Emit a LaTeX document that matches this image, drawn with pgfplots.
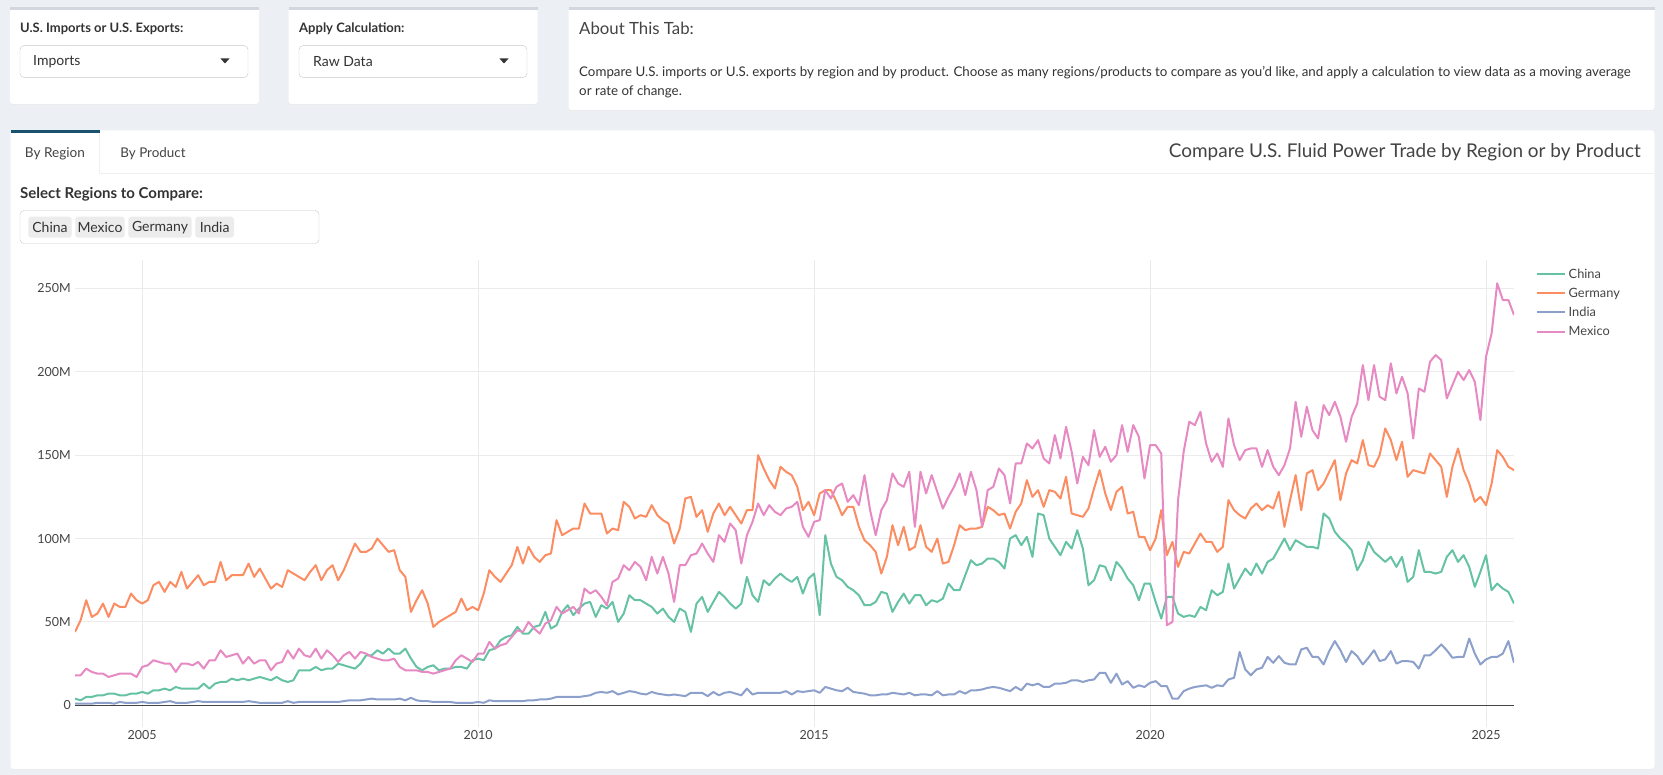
\documentclass[border=0pt]{standalone}
\usepackage{pgfplots}
\usepackage{pgfplotstable}
\pgfplotsset{compat=1.18}
\usepackage{fontspec}
\setmainfont{Lato}
\definecolor{bgc}{RGB}{236,240,245}
\definecolor{topgray}{RGB}{210,214,222}
\definecolor{selb}{RGB}{200,200,200}
\definecolor{tealc}{RGB}{26,82,110}
\definecolor{itemc}{RGB}{236,236,236}
\definecolor{textdark}{RGB}{51,51,51}
\definecolor{labelc}{RGB}{68,68,68}
\definecolor{gridc}{RGB}{235,235,235}
\definecolor{zeroc}{RGB}{68,68,68}
\definecolor{hdrline}{RGB}{240,240,240}
\definecolor{cChina}{RGB}{102,194,165}
\definecolor{cGermany}{RGB}{252,141,98}
\definecolor{cIndia}{RGB}{141,160,203}
\definecolor{cMexico}{RGB}{231,138,195}

\pgfplotstableread{
m C G I X
0 4 44 1 18
1 3 51 1 18
2 5 63 1 22
3 5 53 1 20
4 6 55 1.5 19
5 6 61 1.5 19
6 7 53 1.5 17
7 7 61 1 18
8 6 59 2 19
9 6 59 1.5 19
10 7 67 1.5 19
11 7 63 1.5 17
12 8 61 2 23
13 7 63 1.5 24
14 9 72 1.5 27
15 9 74 1.5 26
16 10 68 2 25
17 9 74 2.5 25
18 11 71 1.5 20
19 10 80 1.5 25
20 10 70 1.5 25
21 10 74 2 24
22 10 78 2.5 26
23 13 72 2 22
24 10 74 2 27
25 13 74 2 27
26 14 86 2 33
27 14 75 2 29
28 16 78 2 30
29 15 78 2 31
30 16 78 2 25
31 15 85 2.5 29
32 16 77 2 25
33 17 82 1.5 27
34 16 76 1.5 27
35 15 70 1.5 21
36 17 73 1.5 25
37 15 71 1.5 26
38 14 81 2.5 33
39 15 79 1.5 28
40 21 77 2 34
41 21 75 2 30
42 21 80 2 29
43 23 84 2 34
44 21 75 2 28
45 22 81 2 33
46 22 84 2 30
47 25 75 2 26
48 24 81 2.5 30
49 23 89 3 32
50 22 97 3 28
51 25 92 3 32
52 30 92 3.5 31
53 30 94 4 29
54 33 100 3.5 28
55 31 96 3.5 27
56 34 92 3.5 27
57 31 93 3.5 28
58 31 81 4 23
59 34 77 3 21
60 28 56 4.5 21
61 23 63 3 21
62 21 69 2.5 20
63 23 61 2.5 20
64 24 47 2 19
65 21 50 2 20
66 22 52 2 21
67 22 54 2 22
68 23 56 1.5 27
69 23 64 1.5 30
70 22 57 1.5 28
71 27 59 1.5 26
72 28 57 2 31
73 27 67 1.5 31
74 33 81 3 38
75 34 77 2.5 34
76 39 74 2.5 36
77 41 79 2.5 37
78 42 84 2.5 41
79 47 95 2.5 45
80 43 85 2.5 44
81 43 95 3 50
82 47 89 3 46
83 48 86 3.5 43
84 56 90 3.5 49
85 46 91 4 51
86 48 111 5 59
87 56 102 5 55
88 60 104 5 57
89 54 106 5 59
90 58 106 5 55
91 61 121 5.5 70
92 62 115 6 67
93 53 115 7.5 69
94 60 115 8 65
95 58 103 7.5 60
96 62 106 8.5 74
97 50 105 6.5 76
98 55 122 7.5 84
99 66 119 8.5 81
100 63 112 8 86
101 63 114 7 83
102 61 113 6.5 75
103 59 120 8 89
104 55 114 7 79
105 58 111 6.5 89
106 53 109 6 79
107 50 97 6.5 62
108 58 106 6 84
109 56 124 5.5 84
110 44 125 7.5 90
111 61 113 7.5 91
112 65 117 7.5 97
113 56 104 5.5 91
114 62 115 8 86
115 68 121 6 102
116 65 114 7.5 98
117 61 119 8 109
118 58 114 7 105
119 61 109 6 85
120 77 117 10 102
121 66 117 6.5 110
122 62 150 7.5 121
123 75 142 7.5 114
124 72 135 7.5 120
125 76 130 7.5 116
126 79 143 7.5 114
127 76 140 8.5 118
128 74 138 6.5 119
129 77 131 8.5 122
130 67 117 8 107
131 76 122 8.5 101
132 79 114 9 110
133 54 127 7.5 111
134 102 129 11 129
135 85 129 10 124
136 77 122 9 131
137 75 114 8.5 133
138 71 119 10.5 122
139 69 119 8 126
140 66 107 7.5 120
141 60 99 7 138
142 60 96 6 117
143 62 92 6 102
144 68 79 6.5 117
145 67 89 6.5 123
146 56 108 7.5 139
147 62 96 7 133
148 67 107 6.5 131
149 61 93 7.5 140
150 66 95 6 107
151 66 108 6.5 140
152 60 95 6.5 127
153 63 92 6 138
154 62 100 8.5 128
155 64 85 6 118
156 73 86 6.5 125
157 69 96 6.5 131
158 69 108 8.5 139
159 78 105 7 126
160 87 106 9 140
161 84 106 9 129
162 85 107 9.5 107
163 88 119 10.5 129
164 88 117 11 131
165 86 114 10.5 142
166 82 115 9.5 138
167 100 106 8.5 121
168 102 116 11 145
169 96 121 9 145
170 101 135 13 157
171 89 125 12 154
172 115 129 13 159
173 114 119 11 148
174 100 129 11 145
175 95 128 13 162
176 90 124 13 148
177 98 137 13.5 167
178 94 115 15 152
179 105 114 15 133
180 94 113 14 149
181 72 118 15 144
182 75 130 15.5 165
183 84 141 19.5 149
184 83 127 19.5 155
185 75 117 13.5 146
186 86 128 19 150
187 82 131 12.5 168
188 76 115 14.5 152
189 72 116 10.5 168
190 63 101 12 161
191 73 101 11 136
192 73 93 13.5 156
193 62 100 14.5 156
194 52 117 11.5 151
195 65 90 11.5 48
196 65 98 4 50
197 55 83 4 123
198 53 92 8.5 152
199 54 91 10 170
200 53 97 11 168
201 59 103 11.5 176
202 57 98 12 157
203 69 98 10.5 146
204 66 92 12 151
205 68 95 11.5 143
206 85 123 15.5 172
207 70 117 16.5 156
208 76 114 32 147
209 82 112 21.5 153
210 78 118 18 154
211 85 121 21.5 154
212 79 117 22.5 143
213 86 120 29 153
214 88 118 25.5 143
215 94 128 29.5 138
216 100 107 25.5 144
217 93 123 24.5 154
218 99 138 24.5 182
219 97 117 33.5 161
220 95 139 34.5 179
221 95 141 29 165
222 94 129 29 160
223 115 133 24.5 180
224 112 140 32.5 174
225 104 147 38.5 182
226 100 123 33 173
227 97 139 26 158
228 93 147 32.5 173
229 81 145 29.5 181
230 87 159 24.5 204
231 98 144 28.5 183
232 92 143 33 204
233 89 150 26.5 185
234 86 166 27.5 183
235 89 159 32.5 205
236 83 147 25 187
237 89 158 26.5 197
238 74 137 26.5 187
239 77 141 26 160
240 93 140 22 190
241 80 139 30 188
242 80 151 30 206
243 79 147 33 210
244 80 143 36.5 207
245 89 125 33 184
246 93 143 28.5 192
247 86 154 29 200
248 90 141 29 195
249 83 133 40 201
250 71 122 31 194
251 80 125 24.5 171
252 90 120 27.5 209
253 69 133 29 223
254 73 153 29 253
255 70 149 31 243
256 68 143 38.5 243
257 61 141 25.5 234
}\datatable

\begin{document}
\begin{tikzpicture}
\path[use as bounding box] (0,0) rectangle (1663pt,775pt);
\fill[bgc] (0,0) rectangle (1663pt,775pt);
\begin{scope}[shift={(0,775pt)}, x=1pt, y=-1pt]
  % box 1
  \fill[black!8, rounded corners=3pt] (10,8) rectangle (259,105);
  \fill[white, rounded corners=3pt] (10,7) rectangle (259,104);
  \fill[topgray] (10,7) rectangle (259,10);
  \node[anchor=west, inner sep=0pt, text=textdark, font=\fontsize{13}{15}\selectfont\bfseries] at (20,29) {U.S. Imports or U.S. Exports:};
  \draw[selb, fill=white, rounded corners=4pt] (20,45.6) rectangle (248,77.4);
  \node[anchor=west, inner sep=0pt, text=textdark, font=\fontsize{14}{16}\selectfont] at (33,62) {Imports};
  \fill[textdark] (220.5,58.5) -- (229.5,58.5) -- (225,63.5) -- cycle;
  % box 2
  \fill[black!8, rounded corners=3pt] (288.5,8) rectangle (537.7,105);
  \fill[white, rounded corners=3pt] (288.5,7) rectangle (537.7,104);
  \fill[topgray] (288.5,7) rectangle (537.7,10);
  \node[anchor=west, inner sep=0pt, text=textdark, font=\fontsize{13}{15}\selectfont\bfseries] at (299,29) {Apply Calculation:};
  \draw[selb, fill=white, rounded corners=4pt] (299,45.6) rectangle (527,77.4);
  \node[anchor=west, inner sep=0pt, text=textdark, font=\fontsize{14}{16}\selectfont] at (313,62) {Raw Data};
  \fill[textdark] (499.5,58.5) -- (508.5,58.5) -- (504,63.5) -- cycle;
  % box 3
  \fill[black!8, rounded corners=3pt] (568.5,8) rectangle (1654.5,111);
  \fill[white, rounded corners=3pt] (568.5,7) rectangle (1654.5,110);
  \fill[topgray] (568.5,7) rectangle (1654.5,10);
  \node[anchor=west, inner sep=0pt, text=labelc, font=\fontsize{16.8}{19}\selectfont] at (579,28.5) {About This Tab:};
  \node[anchor=west, inner sep=0pt, text=textdark, font=\fontsize{13.33}{15}\selectfont] at (579,72.5) {Compare U.S. imports or U.S. exports by region and by product. Choose as many regions/products to compare as you'd like, and apply a calculation to view data as a moving average};
  \node[anchor=west, inner sep=0pt, text=textdark, font=\fontsize{13.33}{15}\selectfont] at (579,92) {or rate of change.};
  % main box
  \fill[black!8, rounded corners=3pt] (10.6,131.5) rectangle (1654.5,770);
  \fill[white, rounded corners=3pt] (10.6,130.5) rectangle (1654.5,769);
  \fill[tealc] (10.6,130.5) rectangle (99.7,133.5);
  \draw[hdrline, line width=1pt] (99.7,174) -- (1654.5,174);
  \draw[hdrline, line width=1pt] (99.7,133.5) -- (99.7,174);
  \node[inner sep=0pt, text=labelc, font=\fontsize{13.6}{16}\selectfont] at (55,154) {By Region};
  \node[inner sep=0pt, text=labelc, font=\fontsize{13.4}{16}\selectfont] at (153,154) {By Product};
  \node[anchor=east, inner sep=0pt, text=labelc, font=\fontsize{18.95}{22}\selectfont] at (1641,152.5) {Compare U.S. Fluid Power Trade by Region or by Product};
  \node[anchor=west, inner sep=0pt, text=textdark, font=\fontsize{15}{17}\selectfont\bfseries] at (20,194) {Select Regions to Compare:};
  \draw[selb, fill=white, rounded corners=4pt] (20,210.5) rectangle (319,243.5);
  \foreach \a/\b/\t in {28.3/71.7/China, 75.3/124.7/Mexico, 128.3/191.7/Germany, 195.3/234/India}{
    \fill[itemc, rounded corners=3pt] (\a,216.7) rectangle (\b,237.7);
    \node[inner sep=0pt, text=textdark, font=\fontsize{14}{16}\selectfont] at ({(\a+\b)/2},227.2) {\t};
  }
\end{scope}
\begin{axis}[
  at={(75pt,48pt)}, anchor=south west,
  scale only axis, width=1439pt, height=467pt,
  xmin=0, xmax=257, ymin=-13, ymax=267,
  axis line style={draw=none},
  tick style={draw=none},
  xtick={12,72,132,192,252},
  xticklabels={2005,2010,2015,2020,2025},
  ytick={0,50,100,150,200,250},
  yticklabels={0,50M,100M,150M,200M,250M},
  grid=major,
  major grid style={gridc, line width=1pt},
  ticklabel style={font=\fontsize{12.5}{14}\selectfont, text=labelc},
  yticklabel style={anchor=east, inner sep=0pt, xshift=-4pt},
  xticklabel style={anchor=north, inner sep=0pt, yshift=-3.5pt},
  legend style={at={(rel axis cs:1,1)}, anchor=north west, xshift=22pt, yshift=-6pt,
    draw=none, fill=none, inner sep=0pt, row sep=3.3pt,
    font=\fontsize{12.8}{14}\selectfont, text=labelc, nodes={inner sep=2.5pt}},
  legend cell align=left,
  legend image code/.code={\draw[#1, line width=2pt] (0pt,0pt) -- (28pt,0pt);},
  every axis plot/.append style={line width=2pt, line join=round},
]
\addplot[zeroc, line width=1pt, forget plot] coordinates {(0,0) (257,0)};
\addplot[cChina, no marks] table[x=m, y=C] {\datatable};
\addlegendentry{China}
\addplot[cGermany, no marks] table[x=m, y=G] {\datatable};
\addlegendentry{Germany}
\addplot[cIndia, no marks] table[x=m, y=I] {\datatable};
\addlegendentry{India}
\addplot[cMexico, no marks] table[x=m, y=X] {\datatable};
\addlegendentry{Mexico}
\end{axis}
\end{tikzpicture}
\end{document}
